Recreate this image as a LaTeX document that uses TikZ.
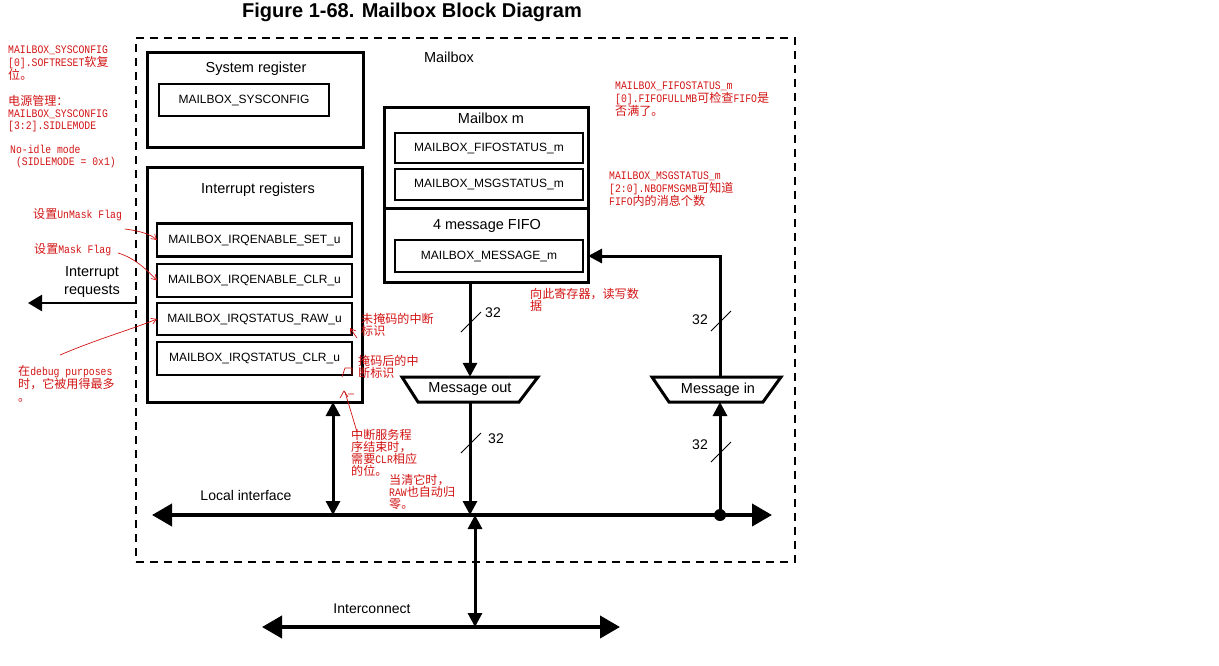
\documentclass[tikz,border=0pt]{standalone}
\usepackage{fontspec}
\setmainfont{Liberation Sans}
\newfontfamily\cjk[Scale=1.05]{Noto Sans CJK SC}
\newfontfamily\amono[FakeStretch=0.85]{Liberation Mono}
\usetikzlibrary{arrows.meta}
\definecolor{annred}{RGB}{210,20,20}
\newcommand{\zh}[1]{{\cjk #1}}
\tikzset{
 box/.style={draw, line width=3pt, inner sep=0pt, outer sep=0pt},
 ibox/.style={draw, line width=2.5pt, inner sep=0pt, outer sep=0pt, font=\fontsize{12}{14}\selectfont},
 lbl/.style={font=\fontsize{14.5}{18}\selectfont, inner sep=0pt},
 ann/.style={text=annred, font=\amono\fontsize{11.5}{12.2}\selectfont, align=left, anchor=north west, inner sep=0pt},
 arr/.style={line width=3pt, -{Triangle[length=14pt,width=14pt]}},
 dbl/.style={line width=3pt, {Triangle[length=14pt,width=14pt]}-{Triangle[length=14pt,width=14pt]}},
 busline/.style={line width=4pt, {Triangle[length=20pt,width=22pt]}-{Triangle[length=20pt,width=22pt]}},
 slash/.style={line width=0.8pt},
 rarr/.style={annred, line width=0.7pt, -{Straight Barb[length=5pt,width=6pt]}},
 rline/.style={annred, line width=0.7pt},
}
\begin{document}
\begin{tikzpicture}[x=1pt,y=-1pt]
\useasboundingbox (0,0) rectangle (1219,665);
% title
\node[font=\fontsize{20}{22}\selectfont\bfseries, inner sep=0pt] (title) at (412,12) {Figure 1-68. Mailbox Block Diagram};
% dashed mailbox border
\node[draw, line width=2pt, dash pattern=on 8pt off 6pt, minimum width=659pt, minimum height=524pt, inner sep=0pt] (mb) at (465.5,300) {};
\node[lbl] (mbT) at (449,57) {Mailbox};
% system register
\node[box, minimum width=216pt, minimum height=95pt] (sys) at (255,99.5) {};
\node[lbl] (sysT) at (256,69) {System register};
\node[ibox, minimum width=170pt, minimum height=32pt] (sysc) at (244,100) {MAILBOX\_SYSCONFIG};
% interrupt registers
\node[box, minimum width=215pt, minimum height=235pt] (irq) at (254.5,284.5) {};
\node[lbl] (irqT) at (258,190) {Interrupt registers};
\node[ibox, minimum width=195pt, minimum height=33pt] (iset) at (254.5,240) {MAILBOX\_IRQENABLE\_SET\_u};
\node[ibox, minimum width=195pt, minimum height=33pt] (iclr) at (254.5,280.5) {MAILBOX\_IRQENABLE\_CLR\_u};
\node[ibox, minimum width=195pt, minimum height=32pt] (iraw) at (254.5,319) {MAILBOX\_IRQSTATUS\_RAW\_u};
\node[ibox, minimum width=195pt, minimum height=33pt] (isclr) at (254.5,358.5) {MAILBOX\_IRQSTATUS\_CLR\_u};
% mailbox m
\node[box, minimum width=204pt, minimum height=101pt] (mbm) at (486,157.5) {};
\node[lbl] (mbmT) at (491,118) {Mailbox m};
\node[ibox, minimum width=188pt, minimum height=30pt] (fst) at (489,148) {MAILBOX\_FIFOSTATUS\_m};
\node[ibox, minimum width=188pt, minimum height=31pt] (mst) at (489,184.5) {MAILBOX\_MSGSTATUS\_m};
\node[box, minimum width=204pt, minimum height=74pt] (fifo) at (486,245) {};
\node[lbl] (fifoT) at (487,226) {4 message FIFO};
\node[ibox, minimum width=188pt, minimum height=32pt] (msg) at (489,256) {MAILBOX\_MESSAGE\_m};
% message out / in
\node[lbl, minimum width=100pt, minimum height=25pt] (mout) at (470,389.5) {Message out};
\draw[line width=3pt, line join=miter] (402,377) -- (538,377) -- (519,402) -- (418,402) -- cycle;
\node[lbl, minimum width=90pt, minimum height=25pt] (min) at (718,389.5) {Message in};
\draw[line width=3pt, line join=miter] (652,377) -- (781,377) -- (763,402) -- (669,402) -- cycle;
% buses
\coordinate (lbl) at (152,515);
\coordinate (lbr) at (772,515);
\draw[busline] (lbl) -- (lbr);
\node[lbl, font=\fontsize{14}{16}\selectfont] (lbT) at (246,495) {Local interface};
\coordinate (icl) at (262,627);
\coordinate (icr) at (620,627);
\draw[busline] (icl) -- (icr);
\node[lbl, font=\fontsize{14}{16}\selectfont] (icT) at (372,609) {Interconnect};
\coordinate (lbx) at (475,515);
\draw[dbl] (lbx) -- (lbx |- icl);
% interrupt link
\coordinate (ia) at (333,402);
\draw[dbl] (ia) -- (ia |- lbl);
% message out path
\draw[arr] (fifo.south -| mout.north) -- (mout.north);
\draw[arr] (mout.south) -- (mout.south |- lbl);
% message in path
\coordinate (mix) at (720,402);
\draw[arr] (mix |- lbl) -- (mix);
\fill (mix |- lbl) circle (6pt);
\draw[arr] (mix |- min.north) -- (mix |- msg.east) -- (fifo.east |- msg.east);
% bus width marks
\draw[slash] (461,332) -- (481,312);
\node[lbl, font=\fontsize{14}{16}\selectfont] (w1) at (493,313) {32};
\draw[slash] (461,453) -- (481,433);
\node[lbl, font=\fontsize{14}{16}\selectfont] (w2) at (496,439) {32};
\draw[slash] (711,331) -- (731,311);
\node[lbl, font=\fontsize{14}{16}\selectfont] (w3) at (700,320) {32};
\draw[slash] (711,462) -- (731,442);
\node[lbl, font=\fontsize{14}{16}\selectfont] (w4) at (700,445) {32};
% interrupt requests
\node[lbl, align=center, font=\fontsize{14.5}{18}\selectfont] (ireq) at (92,282) {Interrupt\\requests};
\coordinate (irs) at (135,303);
\coordinate (ire) at (28,303);
\draw[line width=2.5pt, -{Triangle[length=14pt,width=16pt]}] (irs) -- (ire);
% red annotations
\node[ann] (a1) at (8,46) {MAILBOX\_SYSCONFIG\\{}[0].SOFTRESET\zh{软复}\\\zh{位。}};
\node[ann] (a2) at (8,95) {\zh{电源管理：}\\MAILBOX\_SYSCONFIG\\{}[3:2].SIDLEMODE};
\node[ann] (a3) at (10,145) {No-idle mode\\\ (SIDLEMODE = 0x1)};
\node[ann] (a4) at (33,208) {\zh{设置}UnMask Flag};
\node[ann] (a5) at (34,243) {\zh{设置}Mask Flag};
\node[ann] (a7) at (18,365) {\zh{在}debug purposes\\\zh{时，它被用得最多}\\\zh{。}};
\node[ann] (a8) at (361,313) {\zh{未掩码的中断}\\\zh{标识}};
\node[ann] (a9) at (358,355) {\zh{掩码后的中}\\\zh{断标识}};
\node[ann] (a10) at (351,429) {\zh{中断服务程}\\\zh{序结束时，}\\\zh{需要}CLR\zh{相应}\\\zh{的位。}};
\node[ann] (a11) at (389,474) {\zh{当清它时，}\\RAW\zh{也自动归}\\\zh{零。}};
\node[ann] (a12) at (530,288) {\zh{向此寄存器，读写数}\\\zh{据}};
\node[ann] (a13) at (615,82) {MAILBOX\_FIFOSTATUS\_m\\{}[0].FIFOFULLMB\zh{可检查}FIFO\zh{是}\\\zh{否满了。}};
\node[ann] (a14) at (609,172) {MAILBOX\_MSGSTATUS\_m\\{}[2:0].NBOFMSGMB\zh{可知道}\\FIFO\zh{内的消息个数}};
% red pointers
\draw[rarr] (125,229) .. controls (140,231) and (150,234) .. (iset.west);
\draw[rarr] (118,253) .. controls (135,258) and (147,270) .. (iclr.west);
\draw[rarr] (60,355) .. controls (100,338) and (130,330) .. (iraw.west);
\draw[rarr] (357,338) -- (350,328);
\draw[rline] (342,377) -- (345,368) -- (352,368) -- (352,375);
\draw[rline] (357,432) .. controls (352,415) and (348,402) .. (345,392);
\draw[rline] (340,398) -- (344,391) -- (348,397) (348,394) -- (354,394);
\end{tikzpicture}
\end{document}
